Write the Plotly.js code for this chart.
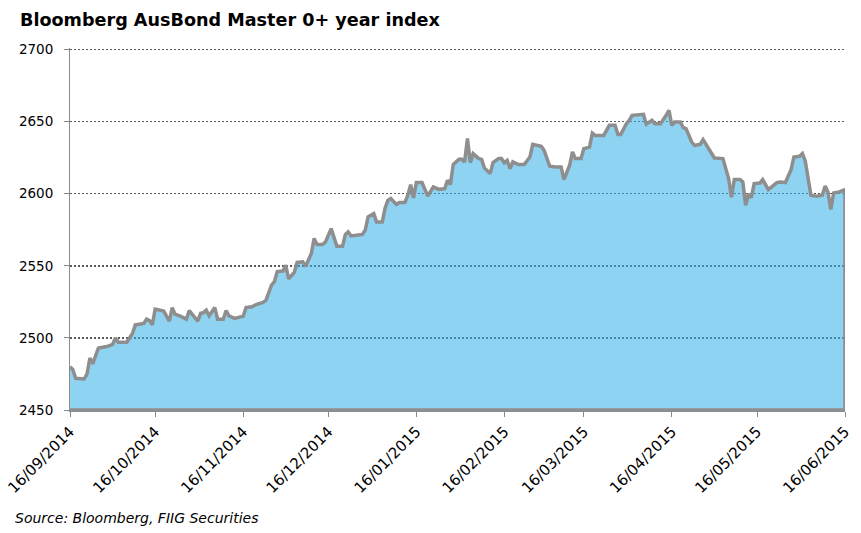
<!DOCTYPE html>
<html>
<head>
<meta charset="utf-8">
<script src="https://cdn.plot.ly/plotly-3.0.1.min.js"></script>
<style>
  html, body { margin: 0; padding: 0; background: #fff; }
  #chart { width: 861px; height: 533px; }
</style>
</head>
<body>
<div id="chart"></div>
<script>
/* ----- Data -------------------------- */
var dates = [
    '2014-09-16', '2014-09-17', '2014-09-18', '2014-09-21', '2014-09-22', '2014-09-23', '2014-09-24', '2014-09-25',
    '2014-09-26', '2014-09-29', '2014-10-01', '2014-10-02', '2014-10-03', '2014-10-06', '2014-10-08', '2014-10-09',
    '2014-10-12', '2014-10-13', '2014-10-14', '2014-10-15', '2014-10-16', '2014-10-19', '2014-10-21', '2014-10-22',
    '2014-10-23', '2014-10-25', '2014-10-26', '2014-10-27', '2014-10-28', '2014-10-30', '2014-10-31', '2014-11-01',
    '2014-11-02', '2014-11-03', '2014-11-04', '2014-11-06', '2014-11-07', '2014-11-09', '2014-11-10', '2014-11-11',
    '2014-11-13', '2014-11-15', '2014-11-16', '2014-11-17', '2014-11-19', '2014-11-21', '2014-11-23', '2014-11-24',
    '2014-11-26', '2014-11-27', '2014-11-28', '2014-11-30', '2014-12-01', '2014-12-02', '2014-12-04', '2014-12-05',
    '2014-12-07', '2014-12-08', '2014-12-10', '2014-12-11', '2014-12-12', '2014-12-14', '2014-12-15', '2014-12-17',
    '2014-12-19', '2014-12-21', '2014-12-22', '2014-12-23', '2014-12-24', '2014-12-28', '2014-12-29', '2014-12-30',
    '2015-01-01', '2015-01-02', '2015-01-04', '2015-01-05', '2015-01-06', '2015-01-07', '2015-01-09', '2015-01-10',
    '2015-01-12', '2015-01-13', '2015-01-14', '2015-01-15', '2015-01-16', '2015-01-18', '2015-01-19', '2015-01-20',
    '2015-01-22', '2015-01-24', '2015-01-26', '2015-01-27', '2015-01-28', '2015-01-29', '2015-01-31', '2015-02-01',
    '2015-02-02', '2015-02-03', '2015-02-04', '2015-02-05', '2015-02-07', '2015-02-08', '2015-02-09', '2015-02-11',
    '2015-02-12', '2015-02-14', '2015-02-15', '2015-02-16', '2015-02-17', '2015-02-18', '2015-02-19', '2015-02-21',
    '2015-02-23', '2015-02-25', '2015-02-26', '2015-02-28', '2015-03-01', '2015-03-02', '2015-03-04', '2015-03-06',
    '2015-03-08', '2015-03-09', '2015-03-11', '2015-03-12', '2015-03-13', '2015-03-15', '2015-03-16', '2015-03-18',
    '2015-03-19', '2015-03-20', '2015-03-23', '2015-03-25', '2015-03-27', '2015-03-28', '2015-03-29', '2015-03-31',
    '2015-04-01', '2015-04-02', '2015-04-06', '2015-04-07', '2015-04-09', '2015-04-10', '2015-04-12', '2015-04-14',
    '2015-04-15', '2015-04-16', '2015-04-17', '2015-04-19', '2015-04-20', '2015-04-21', '2015-04-23', '2015-04-24',
    '2015-04-26', '2015-04-27', '2015-04-29', '2015-05-01', '2015-05-04', '2015-05-06', '2015-05-07', '2015-05-08',
    '2015-05-10', '2015-05-11', '2015-05-12', '2015-05-13', '2015-05-14', '2015-05-15', '2015-05-17', '2015-05-18',
    '2015-05-20', '2015-05-21', '2015-05-23', '2015-05-24', '2015-05-26', '2015-05-28', '2015-05-29', '2015-05-31',
    '2015-06-01', '2015-06-02', '2015-06-04', '2015-06-06', '2015-06-08', '2015-06-09', '2015-06-10', '2015-06-11',
    '2015-06-12', '2015-06-14', '2015-06-16'
];

var indexValues = [
    2480.0, 2478.0, 2472.0, 2471.5, 2475.0, 2486.0, 2482.0, 2488.0,
    2493.0, 2494.0, 2495.5, 2500.0, 2497.0, 2497.0, 2503.0, 2509.0,
    2510.0, 2513.0, 2512.0, 2509.0, 2520.0, 2518.6, 2511.6, 2521.0,
    2516.5, 2515.0, 2514.0, 2513.0, 2519.0, 2513.5, 2511.6, 2517.0,
    2517.4, 2519.3, 2515.3, 2521.0, 2513.0, 2513.0, 2519.0, 2515.3,
    2513.5, 2514.6, 2515.0, 2521.0, 2521.6, 2523.4, 2524.6, 2526.0,
    2536.6, 2539.0, 2546.0, 2546.3, 2550.4, 2541.0, 2545.4, 2552.3,
    2552.7, 2549.7, 2558.5, 2569.0, 2564.8, 2564.8, 2566.6, 2575.8,
    2563.6, 2563.6, 2571.7, 2573.5, 2570.7, 2571.7, 2574.7, 2583.9,
    2586.2, 2580.4, 2580.4, 2590.0, 2595.4, 2596.6, 2592.5, 2593.9,
    2593.9, 2598.9, 2606.3, 2597.0, 2607.7, 2607.7, 2602.4, 2598.4,
    2604.6, 2603.0, 2603.5, 2609.3, 2606.3, 2620.2, 2623.8, 2623.8,
    2622.0, 2638.2, 2621.5, 2627.8, 2624.3, 2623.8, 2617.8, 2613.9,
    2621.5, 2624.3, 2624.3, 2621.5, 2623.1, 2617.4, 2622.0, 2620.2,
    2620.2, 2625.4, 2634.2, 2633.0, 2632.8, 2630.0, 2619.0, 2618.5,
    2618.5, 2609.8, 2619.7, 2628.9, 2624.3, 2624.3, 2631.2, 2632.3,
    2642.0, 2640.4, 2640.4, 2647.4, 2647.4, 2641.1, 2641.1, 2648.5,
    2650.8, 2654.3, 2655.0, 2648.1, 2650.8, 2648.5, 2648.5, 2654.3,
    2657.8, 2647.4, 2649.7, 2649.7, 2645.8, 2645.1, 2635.8, 2633.5,
    2634.2, 2637.5, 2631.2, 2624.7, 2624.3, 2610.5, 2597.5, 2609.8,
    2609.8, 2608.1, 2592.0, 2599.6, 2597.3, 2607.0, 2607.4, 2609.8,
    2602.8, 2604.6, 2607.7, 2608.1, 2607.7, 2616.7, 2625.4, 2625.9,
    2627.8, 2622.7, 2598.9, 2598.2, 2598.9, 2605.3, 2601.2, 2589.0,
    2600.5, 2601.2, 2602.8
];

var tickDates = [
    '2014-09-16', '2014-10-16', '2014-11-16', '2014-12-16', '2015-01-16',
    '2015-02-16', '2015-03-16', '2015-04-16', '2015-05-16', '2015-06-16'
];
var tickLabels = [
    '16/09/2014', '16/10/2014', '16/11/2014', '16/12/2014', '16/01/2015',
    '16/02/2015', '16/03/2015', '16/04/2015', '16/05/2015', '16/06/2015'
];
var yTicks = [2450, 2500, 2550, 2600, 2650, 2700];
var yRange = [2450, 2701]; // a hair above 2700 so the top gridline is not clipped

/* ----- Area trace: closed down to the axis minimum so the outline runs round it ------- */
var last = dates.length - 1;
var areaTrace = {
    x: dates.concat([dates[last], dates[0]]),
    y: indexValues.concat([yRange[0], yRange[0]]),
    mode: 'lines',
    fill: 'toself',
    fillcolor: 'rgba(50, 175, 231, 0.55)',
    line: {color: '#8e8e8e', width: 3.5},
    hoverinfo: 'skip',
    showlegend: false
};

var layout = {
    width: 861,
    height: 533,
    margin: {l: 70, r: 16, t: 48, b: 123},
    paper_bgcolor: '#ffffff',
    plot_bgcolor: '#ffffff',
    font: {family: 'DejaVu Sans, Verdana, sans-serif', size: 13, color: '#000000'},
    showlegend: false,
    title: {
        text: 'Bloomberg AusBond Master 0+ year index',
        font: {family: 'DejaVu Sans, Verdana, sans-serif', size: 17.6, color: '#000000', weight: 'bold'},
        xref: 'container',
        yref: 'container',
        x: 20 / 861,
        xanchor: 'left',
        y: 1 - 20 / 533,
        yanchor: 'middle'
    },
    xaxis: {
        type: 'date',
        range: [dates[0], dates[last]],
        tickmode: 'array',
        tickvals: tickDates,
        ticktext: tickLabels,
        tickangle: -45,
        ticks: 'outside',
        ticklen: 5,
        tickcolor: '#8a8a8a',
        tickfont: {size: 15},
        showgrid: false,
        zeroline: false,
        showline: true,
        linecolor: '#8a8f93',
        linewidth: 2,
        fixedrange: true
    },
    yaxis: {
        range: yRange,
        tickmode: 'array',
        tickvals: yTicks,
        ticks: 'outside',
        ticklen: 5,
        tickcolor: '#8a8a8a',
        ticklabelstandoff: 8,
        tickfont: {size: 13.5},
        showgrid: true,
        gridcolor: '#5a5a5a',
        gridwidth: 1.5,
        griddash: '2px,2px',
        zeroline: false,
        showline: true,
        linecolor: '#8a8a8a',
        linewidth: 1,
        fixedrange: true
    },
    annotations: [{
        text: 'Source: Bloomberg, FIIG Securities',
        xref: 'paper',
        yref: 'paper',
        x: (13 - 70) / 775,
        y: (410 - 518) / 362,
        xanchor: 'left',
        yanchor: 'middle',
        showarrow: false,
        font: {family: 'DejaVu Sans, Verdana, sans-serif', size: 14, style: 'italic', color: '#000000'}
    }]
};

Plotly.newPlot('chart', [areaTrace], layout, {staticPlot: true});
</script>
</body>
</html>
